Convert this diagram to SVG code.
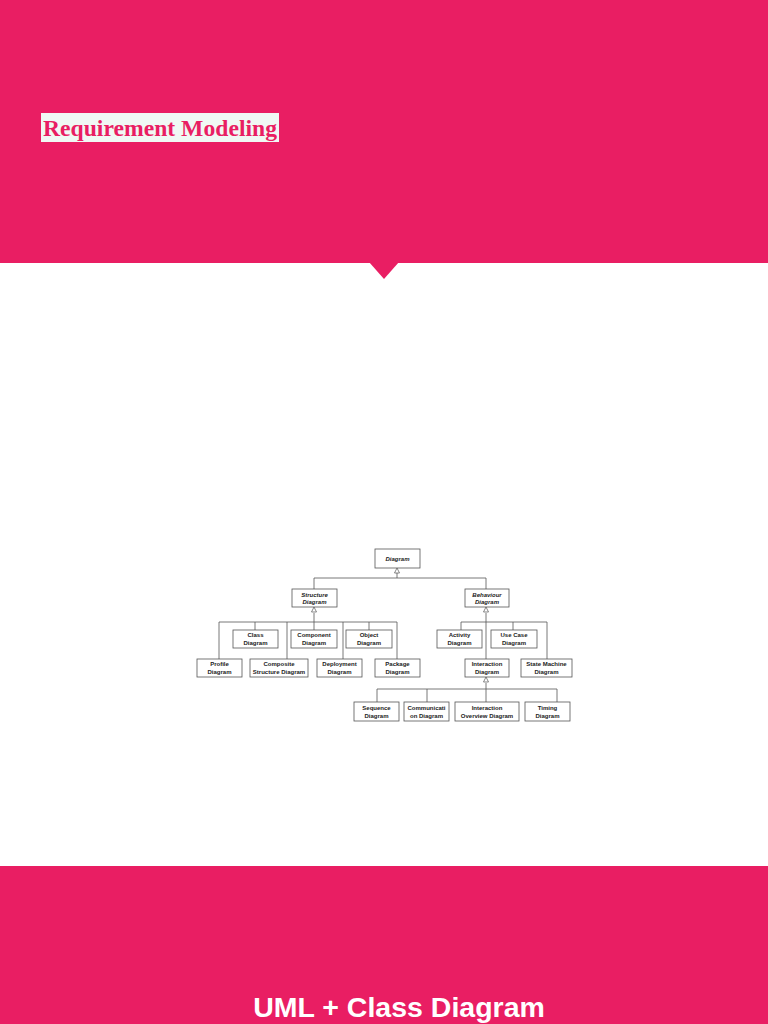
<svg xmlns="http://www.w3.org/2000/svg" width="768" height="1024" viewBox="0 0 768 1024">
<defs>
<style>
.bx{fill:#fff;stroke:#555;stroke-width:0.8}
.t{font-family:"Liberation Sans",Arial,sans-serif;font-size:6px;font-weight:bold;fill:#222;text-anchor:middle}
.i{font-style:italic}
.ln{fill:none;stroke:#555;stroke-width:0.8}
.tri{fill:#fff;stroke:#555;stroke-width:0.7}
</style>
</defs>
<rect x="0" y="0" width="768" height="1024" fill="#fff"/>
<g id="header">
<rect x="0" y="0" width="768" height="263" fill="#E91E63"/>
<polygon points="369,262 399,262 384,279" fill="#E91E63"/>
<rect x="41" y="113" width="238" height="29" fill="#F0F8F4"/>
<text x="160" y="136" text-anchor="middle" font-family="Liberation Serif,serif" font-weight="bold" font-size="23.5" fill="#E91E63" textLength="234" lengthAdjust="spacingAndGlyphs">Requirement Modeling</text>
</g>
<g id="footer">
<rect x="0" y="866" width="768" height="158" fill="#E91E63"/>
<text x="399" y="1017" text-anchor="middle" font-family="Liberation Sans,Arial,sans-serif" font-weight="bold" font-size="28.5" fill="#fff">UML + Class Diagram</text>
</g>
<g id="connectors">
<path class="ln" d="M397,573 V578 M314,578 H486 M314,578 V589 M486,578 V589"/>
<path class="ln" d="M314,613 V622 M219,622 H397 M219,622 V659 M255,622 V630 M287,622 V659 M314,622 V630 M343,622 V659 M369,622 V630 M397,622 V659"/>
<path class="ln" d="M486,613 V622 M461,622 H547 M461,622 V630 M513,622 V630 M486,622 V659 M547,622 V659"/>
<path class="ln" d="M486,683 V689 M377,689 H557 M377,689 V702 M427,689 V702 M486,689 V702 M557,689 V702"/>
<polygon class="tri" points="397,568 394.5,573 399.5,573"/>
<polygon class="tri" points="314,607 311.5,612 316.5,612"/>
<polygon class="tri" points="486,607 483.5,612 488.5,612"/>
<polygon class="tri" points="486,677 483.5,682 488.5,682"/>
</g>
<g id="n-diagram"><rect class="bx" x="375" y="549" width="45" height="19"/><text class="t i" x="397.5" y="561">Diagram</text></g>
<g id="n-structure"><rect class="bx" x="292" y="589" width="45" height="18"/><text class="t i" x="314.5" y="596.5">Structure</text><text class="t i" x="314.5" y="604">Diagram</text></g>
<g id="n-behaviour"><rect class="bx" x="465" y="589" width="44" height="18"/><text class="t i" x="487" y="596.5">Behaviour</text><text class="t i" x="487" y="604">Diagram</text></g>
<g id="n-class"><rect class="bx" x="233" y="630" width="45" height="18"/><text class="t" x="255.5" y="637">Class</text><text class="t" x="255.5" y="645">Diagram</text></g>
<g id="n-component"><rect class="bx" x="291" y="630" width="46" height="18"/><text class="t" x="314" y="637">Component</text><text class="t" x="314" y="645">Diagram</text></g>
<g id="n-object"><rect class="bx" x="346" y="630" width="46" height="18"/><text class="t" x="369" y="637">Object</text><text class="t" x="369" y="645">Diagram</text></g>
<g id="n-profile"><rect class="bx" x="197" y="659" width="45" height="18"/><text class="t" x="219.5" y="666">Profile</text><text class="t" x="219.5" y="674">Diagram</text></g>
<g id="n-composite"><rect class="bx" x="250" y="659" width="58" height="18"/><text class="t" x="279" y="666">Composite</text><text class="t" x="279" y="674">Structure Diagram</text></g>
<g id="n-deployment"><rect class="bx" x="317" y="659" width="45" height="18"/><text class="t" x="339.5" y="666">Deployment</text><text class="t" x="339.5" y="674">Diagram</text></g>
<g id="n-package"><rect class="bx" x="375" y="659" width="45" height="18"/><text class="t" x="397.5" y="666">Package</text><text class="t" x="397.5" y="674">Diagram</text></g>
<g id="n-activity"><rect class="bx" x="437" y="630" width="45" height="18"/><text class="t" x="459.5" y="637">Activity</text><text class="t" x="459.5" y="645">Diagram</text></g>
<g id="n-usecase"><rect class="bx" x="491" y="630" width="46" height="18"/><text class="t" x="514" y="637">Use Case</text><text class="t" x="514" y="645">Diagram</text></g>
<g id="n-interaction"><rect class="bx" x="465" y="659" width="44" height="18"/><text class="t" x="487" y="666">Interaction</text><text class="t" x="487" y="674">Diagram</text></g>
<g id="n-statemachine"><rect class="bx" x="521" y="659" width="51" height="18"/><text class="t" x="546.5" y="666">State Machine</text><text class="t" x="546.5" y="674">Diagram</text></g>
<g id="n-sequence"><rect class="bx" x="354" y="702" width="45" height="19"/><text class="t" x="376.5" y="710">Sequence</text><text class="t" x="376.5" y="718">Diagram</text></g>
<g id="n-communication"><rect class="bx" x="404" y="702" width="45" height="19"/><text class="t" x="426.5" y="710">Communicati</text><text class="t" x="426.5" y="718">on Diagram</text></g>
<g id="n-overview"><rect class="bx" x="455" y="702" width="64" height="19"/><text class="t" x="487" y="710">Interaction</text><text class="t" x="487" y="718">Overview Diagram</text></g>
<g id="n-timing"><rect class="bx" x="525" y="702" width="45" height="19"/><text class="t" x="547.5" y="710">Timing</text><text class="t" x="547.5" y="718">Diagram</text></g>
</svg>
